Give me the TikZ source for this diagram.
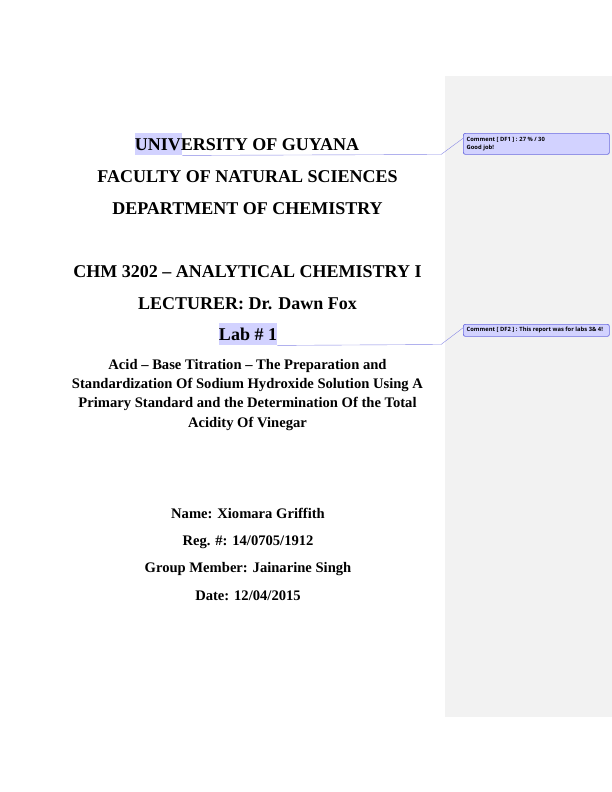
\documentclass[tikz,border=0pt]{standalone}
\usepackage{fontspec}
\setmainfont{Liberation Serif}
\newfontfamily\notefont{Open Sans}
\definecolor{panelgray}{HTML}{F2F2F2}
\definecolor{markfill}{HTML}{D2D2FF}
\definecolor{markline}{HTML}{6A6AE0}
\tikzset{
  bigtitle/.style={inner sep=0pt, anchor=base, font=\fontsize{18}{20}\selectfont\bfseries},
  subtitle/.style={inner sep=0pt, anchor=base, font=\fontsize{14.6}{16}\selectfont\bfseries},
  markbox/.style={fill=markfill, inner sep=0pt, anchor=north west},
  notebox/.style={draw=markline, fill=markfill, rounded corners=2pt, line width=0.7pt, inner sep=0pt, anchor=north west, minimum width=146pt},
  notetext/.style={inner sep=0pt, anchor=west, font=\notefont\fontsize{5.8}{6}\selectfont\bfseries},
  noteline/.style={draw=markline!80, line width=0.4pt}
}
\begin{document}
\begin{tikzpicture}[x=1pt, y=-1pt]
    \useasboundingbox (0, 0) rectangle (612, 792);
    \fill[white] (0, 0) rectangle (612, 792);
    \fill[panelgray] (445, 76) rectangle (612, 717);

    % marked words
    \node[markbox, minimum width=47pt, minimum height=22pt] (mark1) at (135, 133) {};
    \node[markbox, minimum width=58pt, minimum height=22pt] (mark2) at (219, 323) {};

    \node[bigtitle] (uni) at (247, 150) {UNIVERSITY OF GUYANA};
    \node[bigtitle] (fac) at (247.5, 182) {FACULTY OF NATURAL SCIENCES};
    \node[bigtitle] (dep) at (247.5, 214) {DEPARTMENT OF CHEMISTRY};
    \node[bigtitle] (chm) at (247.5, 277) {CHM 3202 -- ANALYTICAL CHEMISTRY I};
    \node[bigtitle] (lec) at (247.5, 309) {LECTURER: Dr. Dawn Fox};
    \node[bigtitle] (lab) at (248, 340) {Lab \# 1};

    \node[subtitle] (acid1) at (247.5, 369) {Acid -- Base Titration -- The Preparation and};
    \node[subtitle] (acid2) at (247.5, 388) {Standardization Of Sodium Hydroxide Solution Using A};
    \node[subtitle] (acid3) at (247.5, 407) {Primary Standard and the Determination Of the Total};
    \node[subtitle] (acid4) at (247.5, 427) {Acidity Of Vinegar};

    \node[subtitle] (name) at (248, 518) {Name: Xiomara Griffith};
    \node[subtitle] (reg) at (248, 545) {Reg. \#: 14/0705/1912};
    \node[subtitle] (group) at (248, 572) {Group Member: Jainarine Singh};
    \node[subtitle] (date) at (248, 600) {Date: 12/04/2015};

    % comments in the margin
    \node[notebox, minimum height=21pt] (note1) at (463, 133) {};
    \node[notetext] (note1a) at (466.5, 139.5) {Comment [ DF1 ] : 27 \% / 30};
    \node[notetext] (note1b) at (466.5, 147.5) {Good job!};
    \node[notebox, minimum height=12pt] (note2) at (463, 324) {};
    \node[notetext] (note2a) at (466.5, 330) {Comment [ DF2 ] : This report was for labs 3\& 4!};

    \coordinate (bend1) at (441, 154.5);
    \coordinate (bend2) at (441, 344.5);
    \draw[noteline] (mark1.south east) -- (bend1) -- ([yshift=5.5pt]note1.west);
    \draw[noteline] (mark2.south east) -- (bend2) -- ([yshift=2.5pt]note2.west);
\end{tikzpicture}
\end{document}
